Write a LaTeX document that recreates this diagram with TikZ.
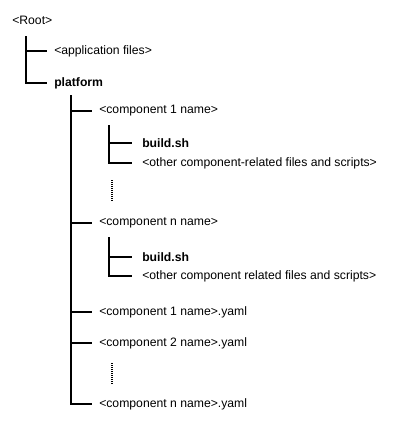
\documentclass[tikz,border=0pt]{standalone}
\usepackage{fontspec}
\setmainfont{Liberation Sans}
\tikzset{
  branch/.style={line width=1.5pt,line join=miter},
  ellip/.style={line width=1pt,dash pattern=on 0.8pt off 0.7pt},
  entry/.style={anchor=west,inner xsep=5.25pt,inner ysep=0pt,font=\fontsize{9.15}{11}\selectfont},
  leaf/.style={entry,inner xsep=7.5pt}
}
\begin{document}
\begin{tikzpicture}[x=0.75pt,y=-0.75pt]
    \useasboundingbox (0,0) rectangle (400,437);

    % -- Top level --
    \node[entry] (root) at (5,20) {<Root>};
    \coordinate (rootstem) at (26,36);
    \node[entry] (app) at (47,51) {<application files>};
    \node[entry] (platform) at (47,83) {\textbf{platform}};

    % -- Platform folder --
    \coordinate (platstem) at (71,95);
    \node[entry] (comp1) at (92,111) {<component 1 name>};
    \node[entry] (compn) at (92,223) {<component n name>};
    \node[entry] (yaml1) at (92,312) {<component 1 name>.yaml};
    \node[entry] (yaml2) at (92,343) {<component 2 name>.yaml};
    \node[entry] (yamln) at (92,404) {<component n name>.yaml};

    % -- Component 1 folder --
    \coordinate (comp1stem) at (109,125);
    \node[leaf] (build1) at (132,143) {\textbf{build.sh}};
    \node[leaf] (other1) at (132,163) {<other component-related files and scripts>};

    % -- Component n folder --
    \coordinate (compnstem) at (109,237);
    \node[leaf] (buildn) at (132,257) {\textbf{build.sh}};
    \node[leaf] (othern) at (132,276) {<other component related files and scripts>};

    % -- Tree lines --
    \draw[branch] (rootstem) |- (app.west);
    \draw[branch] (rootstem) |- (platform.west);
    \foreach \n in {comp1,compn,yaml1,yaml2,yamln}
      \draw[branch] (platstem) |- (\n.west);
    \draw[branch] (comp1stem) |- (build1.west);
    \draw[branch] (comp1stem) |- (other1.west);
    \draw[branch] (compnstem) |- (buildn.west);
    \draw[branch] (compnstem) |- (othern.west);

    % -- Dotted gaps --
    \draw[ellip] (112,180) -- (112,201);
    \draw[ellip] (112,363) -- (112,384);

\end{tikzpicture}
\end{document}
